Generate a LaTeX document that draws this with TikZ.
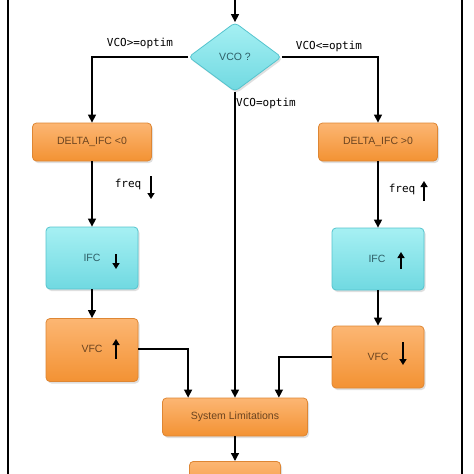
\documentclass[tikz,border=0pt]{standalone}
\usepackage{fontspec}
\setmainfont{Liberation Sans}
\newfontfamily\monofont{DejaVu Sans Mono}
\usetikzlibrary{shapes.geometric,arrows.meta,shadows,calc}
\definecolor{orTop}{HTML}{FCB673}
\definecolor{orBot}{HTML}{F39233}
\definecolor{orLine}{HTML}{DE8633}
\definecolor{orText}{HTML}{6B4420}
\definecolor{cyTop}{HTML}{A6F0F3}
\definecolor{cyBot}{HTML}{70D9E1}
\definecolor{cyLine}{HTML}{55C4CE}
\definecolor{cyText}{HTML}{2E5E66}
\tikzset{
  arr/.style={line width=1.4pt,-{Triangle[width=8pt,length=8pt]}},
  mark arrow/.style={line width=2.8pt,-{Triangle[width=7pt,length=6pt]}},
  orbox/.style={draw=orLine,line width=0.8pt,rounded corners=4pt,top color=orTop,bottom color=orBot,
    text=orText,font=\fontsize{10.5}{12}\selectfont,inner sep=0pt,
    drop shadow={opacity=0.25,shadow xshift=1.5pt,shadow yshift=-2pt}},
  cybox/.style={draw=cyLine,line width=0.8pt,rounded corners=4pt,top color=cyTop,bottom color=cyBot,
    text=cyText,font=\fontsize{10.5}{12}\selectfont,inner sep=0pt,
    drop shadow={opacity=0.25,shadow xshift=1.5pt,shadow yshift=-2pt}},
  lbl/.style={font=\monofont\fontsize{11}{13}\selectfont,inner sep=0pt},
  frame/.style={line width=1.4pt}
}
\begin{document}
\begin{tikzpicture}[x=1pt,y=-1pt]
\useasboundingbox (0,0) rectangle (474,474);
\clip (0,0) rectangle (474,474);
\fill[white] (0,0) rectangle (474,474);
% frame
\coordinate (fl1) at (8,-2); \coordinate (fl2) at (8,476);
\coordinate (fr1) at (462,-2); \coordinate (fr2) at (462,476);
\draw[frame] (fl1) -- (fl2);
\draw[frame] (fr1) -- (fr2);
% nodes
\node[diamond,cybox,minimum width=93pt,minimum height=69pt,aspect=1.35] (d) at (235,57) {VCO ?};
\node[orbox,minimum width=119pt,minimum height=38pt] (dl) at (92,142) {DELTA\_IFC <0};
\node[orbox,minimum width=119pt,minimum height=38pt] (dr) at (378,142) {DELTA\_IFC >0};
\node[cybox,minimum width=92pt,minimum height=62pt] (ifcl) at (92,258) {};
\node[cybox,minimum width=92pt,minimum height=62pt] (ifcr) at (378,259) {};
\node[orbox,minimum width=92pt,minimum height=63pt] (vfcl) at (92,350) {};
\node[orbox,minimum width=92pt,minimum height=62pt] (vfcr) at (378,357) {};
\node[orbox,minimum width=145pt,minimum height=38pt] (sys) at (235,417) {System Limitations};
\node[orbox,minimum width=91pt,minimum height=40pt,anchor=north] (bot) at (235,461) {};
% box texts
\node[text=cyText,font=\fontsize{10.5}{12}\selectfont] (tifcl) at (92,258) {IFC};
\node[text=cyText,font=\fontsize{10.5}{12}\selectfont] (tifcr) at (377,259) {IFC};
\node[text=orText,font=\fontsize{10.5}{12}\selectfont] (tvfcl) at (92,349) {VFC};
\node[text=orText,font=\fontsize{10.5}{12}\selectfont] (tvfcr) at (378,357) {VFC};
\draw[mark arrow] (116,254) -- (116,269);
\draw[mark arrow] (401,269) -- (401,252);
\draw[mark arrow] (116,359) -- (116,339);
\draw[mark arrow] (403,342) -- (403,365);
% labels
\node[lbl] (l1) at (140,43) {VCO>=optim};
\node[lbl] (l2) at (329,46) {VCO<=optim};
\node[lbl] (l3) at (266,103) {VCO=optim};
\node[lbl] (fql) at (128,184) {freq};
\node[lbl] (fqr) at (402,189) {freq};
\draw[mark arrow] (151,176) -- (151,199);
\draw[mark arrow] (424,201) -- (424,181);
% connectors
\coordinate (top) at (235,-2);
\draw[arr] (top) -- (d.north);
\draw[arr] (d.west) -| (dl.north);
\draw[arr] (d.east) -| (dr.north);
\draw[arr] (d.south) -- (sys.north);
\draw[arr] (dl.south) -- (ifcl.north);
\draw[arr] (dr.south) -- (ifcr.north);
\draw[arr] (ifcl.south) -- (vfcl.north);
\draw[arr] (ifcr.south) -- (vfcr.north);
\draw[arr] ([yshift=1pt]vfcl.east) -| ([xshift=26pt]sys.north west);
\draw[arr] (vfcr.west) -| ([xshift=-29pt]sys.north east);
\draw[arr] (sys.south) -- (bot.north);
\end{tikzpicture}
\end{document}
